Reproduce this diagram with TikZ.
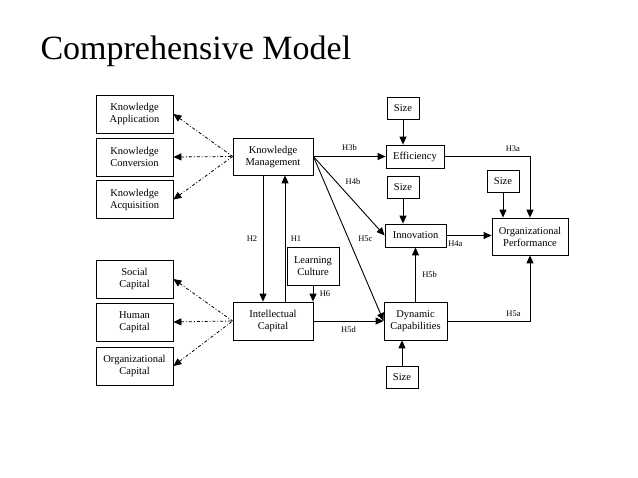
\documentclass[tikz,border=0pt]{standalone}
\usepackage{fontspec}
\setmainfont{Liberation Serif}
\usetikzlibrary{arrows.meta}
\begin{document}
\begin{tikzpicture}[x=1pt,y=-1pt,
 box/.style={draw,line width=0.8pt,align=center,font=\fontsize{10.5}{12}\selectfont,inner sep=0pt},
 arr/.style={-{Triangle[length=8pt,width=7pt]},line width=0.9pt},
 dd/.style={{Triangle[length=8pt,width=7pt]}-,line width=0.8pt,dash dot},
 lab/.style={font=\fontsize{8.5}{9}\selectfont}]
\useasboundingbox (0,0) rectangle (638,478);
\node[anchor=base west,font=\fontsize{34}{38}\selectfont] (title) at (37,60) {Comprehensive Model};
\node[box,minimum width=77,minimum height=38] (ka) at (134.5,114) {Knowledge\\Application};
\node[box,minimum width=77,minimum height=38] (kc) at (134.5,157) {Knowledge\\Conversion};
\node[box,minimum width=77,minimum height=38] (kq) at (134.5,199.5) {Knowledge\\Acquisition};
\node[box,minimum width=77,minimum height=38] (sc) at (134.5,279) {Social\\Capital};
\node[box,minimum width=77,minimum height=38] (hc) at (134.5,322) {Human\\Capital};
\node[box,minimum width=77,minimum height=38] (oc) at (134.5,366) {Organizational\\Capital};
\node[box,minimum width=80,minimum height=37] (km) at (273,156.5) {Knowledge\\Management};
\node[box,minimum width=80,minimum height=38] (ic) at (273,321) {Intellectual\\Capital};
\node[box,minimum width=52,minimum height=38] (lc) at (313,266) {Learning\\Culture};
\node[box,minimum width=32,minimum height=22] (s1) at (403,108) {Size};
\node[box,minimum width=58,minimum height=23] (ef) at (415,156.5) {Efficiency};
\node[box,minimum width=32,minimum height=22] (s2) at (403,187) {Size};
\node[box,minimum width=61,minimum height=23] (in) at (415.5,235.5) {Innovation};
\node[box,minimum width=32,minimum height=22] (s3) at (503,181) {Size};
\node[box,minimum width=76,minimum height=37] (op) at (530,236.5) {Organizational\\Performance};
\node[box,minimum width=63,minimum height=38] (dc) at (415.5,321) {Dynamic\\Capabilities};
\node[box,minimum width=32,minimum height=22] (s4) at (402,377) {Size};
% dash-dot
\draw[dd] (ka.east) -- (km.west);
\draw[dd] (kc.east) -- (km.west);
\draw[dd] (kq.east) -- (km.west);
\draw[dd] (sc.east) -- (ic.west);
\draw[dd] (hc.east) -- (ic.west);
\draw[dd] (oc.east) -- (ic.west);
% arrows
\draw[arr] (km.south -| 263,0) -- node[lab,left=2pt]{H2} (ic.north -| 263,0);
\draw[arr] (ic.north -| 285,0) -- node[lab,right=2pt]{H1} (km.south -| 285,0);
\draw[arr] (lc.south) -- node[lab,right=3pt]{H6} (ic.north -| lc.south);
\draw[arr] (km.east) -- node[lab,above=2pt]{H3b} (ef.west);
\draw[arr] (km.east) -- node[lab,pos=0.4,above right=0pt]{H4b} (in.west);
\draw[arr] (km.east) -- node[lab,pos=0.5,right=6pt]{H5c} (dc.west);
\draw[arr] (ic.east) -- node[lab,below=2pt]{H5d} (dc.west);
\draw[arr] (s1.south) -- (s1.south |- ef.north);
\draw[arr] (s2.south) -- (s2.south |- in.north);
\draw[arr] (s4.north) -- (s4.north |- dc.south);
\draw[arr] (dc) -- node[lab,right=3pt]{H5b} (in);
\draw[arr] (in.east) -- node[lab,pos=0.2,below=2pt]{H4a} (in.east -| op.west);
\draw[arr] (s3) -- (op.north -| s3);
\draw[arr] (ef.east) -| node[lab,pos=0.4,above=1pt]{H3a} (op.north);
\draw[arr] (dc.east) -| node[lab,pos=0.4,above=1pt]{H5a} (op.south);
\end{tikzpicture}
\end{document}
